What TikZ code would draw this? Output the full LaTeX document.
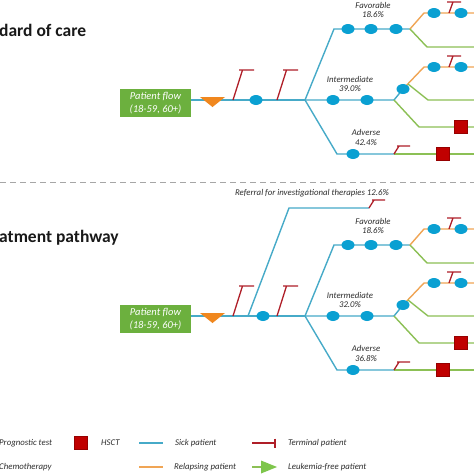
\documentclass[tikz,border=0pt]{standalone}
\usepackage{fontspec}
\setmainfont{Carlito}
\usetikzlibrary{shapes.geometric}
\pgfdeclarelayer{back}
\pgfdeclarelayer{bg}
\pgfsetlayers{back,bg,main}
\definecolor{sickc}{RGB}{70,170,200}
\definecolor{dotc}{RGB}{10,160,210}
\definecolor{relc}{RGB}{240,165,85}
\definecolor{freec}{RGB}{140,192,85}
\definecolor{boxc}{RGB}{108,176,62}
\definecolor{tric}{RGB}{240,135,30}
\definecolor{hsctc}{RGB}{192,0,0}
\definecolor{hsctd}{RGB}{150,0,0}
\definecolor{termc}{RGB}{175,30,40}
\definecolor{labc}{RGB}{45,45,45}
\tikzset{
  sickline/.style={draw=sickc, line width=1.4pt},
  relline/.style={draw=relc, line width=1.4pt},
  freeline/.style={draw=freec, line width=1.4pt},
  termline/.style={draw=termc, line width=1.3pt},
  dot/.style={ellipse, fill=dotc, minimum width=13pt, minimum height=10pt, inner sep=0pt},
  hsct/.style={rectangle, fill=hsctc, draw=hsctd, line width=0.5pt, minimum size=13pt, inner sep=0pt},
  lbl/.style={font=\fontsize{8.8}{10}\selectfont\itshape, text=labc, inner sep=0pt},
  legtxt/.style={font=\fontsize{8.8}{10}\selectfont\itshape, text=labc, inner sep=0pt, anchor=west},
  ttl/.style={font=\fontsize{17.5}{19}\selectfont\bfseries, text=black!90, inner sep=0pt, anchor=west},
  flowbox/.style={rectangle, fill=boxc, text=white, align=center, minimum width=71pt, minimum height=28pt, inner sep=0pt, font=\fontsize{10.5}{13}\selectfont\itshape},
  tbig/.pic={\draw[termline] (0,0) -- (9.5,-30) (6,-30) -- (21,-30);},
  tsmall/.pic={\draw[termline] (0,0) -- (4,-11) (-2,-11) -- (12,-11);},
  tlow/.pic={\draw[termline] (0,0) -- (5,-8) (3,-8) -- (16,-8);}
}
\newcommand\mytree[5]{%
  \node[flowbox] (#1box) at (155.5,103) {Patient flow\\(18-59, 60+)};
  \coordinate (#1s) at (191,100);
  \coordinate (#1b) at (305,100);
  \coordinate (#1fc) at (334,29);
  \coordinate (#1fs) at (410,29);
  \coordinate (#1fo) at (424,13);
  \coordinate (#1foe) at (474,13);
  \coordinate (#1fg) at (427,47);
  \coordinate (#1fge) at (474,47);
  \coordinate (#1is) at (394,100);
  \coordinate (#1ij) at (408,84);
  \coordinate (#1io) at (424,67);
  \coordinate (#1ioe) at (474,67);
  \coordinate (#1ig) at (428,100);
  \coordinate (#1ige) at (474,100);
  \coordinate (#1ih) at (419,127);
  \coordinate (#1ihe) at (474,127);
  \coordinate (#1ac) at (337,154);
  \coordinate (#1at) at (394,154);
  \coordinate (#1ae) at (474,154);
  \node[dot] (#1m) at (#4,100) {};
  \node[dot] (#1f1) at (348,29) {};
  \node[dot] (#1f2) at (371,29) {};
  \node[dot] (#1f3) at (396,29) {};
  \node[dot] (#1fo1) at (434,13) {};
  \node[dot] (#1fo2) at (461,13) {};
  \node[dot] (#1i1) at (333,100) {};
  \node[dot] (#1i2) at (367,100) {};
  \node[dot] (#1ie) at (403,89) {};
  \node[dot] (#1io1) at (434,67) {};
  \node[dot] (#1io2) at (461,67) {};
  \node[dot] (#1a1) at (353,154) {};
  \node[hsct] (#1sq1) at (461,127) {};
  \node[hsct] (#1sq2) at (443,154) {};
  \begin{pgfonlayer}{bg}
    \draw[sickline] (#1s) -- (#1b);
    \draw[sickline] (#1b) -- (#1fc) -- (#1fs);
    \draw[relline] (#1fs) -- (#1fo) -- (#1foe);
    \draw[freeline] (#1fs) -- (#1fg) -- (#1fge);
    \draw[sickline] (#1b) -- (#1is) -- (#1ie.center);
    \draw[relline] (#1ie.center) -- (#1io) -- (#1ioe);
    \draw[freeline] (#1ij) -- (#1ig) -- (#1ige);
    \draw[freeline] (#1is) -- (#1ih) -- (#1ihe);
    \draw[sickline] (#1b) -- (#1ac) -- (#1at);
    \draw[freeline] (#1at) -- (#1ae);
  \end{pgfonlayer}
  \fill[tric] (200,97) -- (225,97) -- (212.5,107) -- cycle;
  \pic at (233,100) {tbig};
  \pic at (277,100) {tbig};
  \pic at (449,13) {tsmall};
  \pic at (449,67) {tsmall};
  \pic at (394,154) {tlow};
  \node[lbl] (#1lf) at (373,5) {Favorable};
  \node[lbl] (#1lfp) at (373,15) {18.6\%};
  \node[lbl] (#1li) at (350,79) {Intermediate};
  \node[lbl] (#1lip) at (350,89) {#2};
  \node[lbl] (#1la) at (366,132) {Adverse};
  \node[lbl] (#1lap) at (366,143) {#3};
  #5
}
\begin{document}
\begin{tikzpicture}[x=1pt,y=-1pt]
\useasboundingbox (0,0) rectangle (474,474);
\begin{pgfonlayer}{back}
\fill[white] (0,0) rectangle (474,474);
\end{pgfonlayer}
% titles
\node[ttl] (t1) at (-1,30) {dard of care};
\node[ttl] (t2) at (-1,238) {atment pathway};
% separator
\coordinate (dl) at (0,182);
\coordinate (dr) at (474,182);
\draw[black!35, line width=1pt, dash pattern=on 6pt off 4pt] (dl) -- (dr);
% top tree
\mytree{A}{39.0\%}{42.4\%}{256}{}
% bottom tree
\begin{scope}[yshift=-216pt]
\mytree{B}{32.0\%}{36.8\%}{263}{%
  \coordinate (Brb) at (248,100);
  \coordinate (Brc) at (289,-8);
  \coordinate (Brt) at (369,-8);
  \begin{pgfonlayer}{bg}
    \draw[sickline] (Brb) -- (Brc) -- (Brt);
  \end{pgfonlayer}
  \pic at (369,-8) {tlow};
  \node[lbl] (Bref) at (312,-23) {Referral for investigational therapies 12.6\%};
}
\end{scope}
% legend
\node[legtxt] (lg1) at (-1,443) {Prognostic test};
\node[hsct] (lgsq) at (81,443) {};
\node[legtxt] (lg2) at (101,443) {HSCT};
\coordinate (ls1) at (139,443);
\coordinate (ls2) at (163,443);
\draw[sickline] (ls1) -- (ls2);
\node[legtxt] (lg3) at (175,443) {Sick patient};
\coordinate (lt1) at (252,443);
\coordinate (lt2) at (275,443);
\draw[termline] (lt1) -- (lt2) (275,438.5) -- (275,447.5);
\node[legtxt] (lg4) at (288,443) {Terminal patient};
\node[legtxt] (lg5) at (-1,467) {Chemotherapy};
\coordinate (lr1) at (139,467);
\coordinate (lr2) at (163,467);
\draw[relline] (lr1) -- (lr2);
\node[legtxt] (lg6) at (174,467) {Relapsing patient};
\coordinate (lf1) at (252,467);
\coordinate (lf2) at (262,467);
\draw[freeline] (lf1) -- (lf2);
\fill[freec!90!green] (261,460.5) -- (277,467) -- (261,473.5) -- cycle;
\node[legtxt] (lg7) at (288,467) {Leukemia-free patient};
\end{tikzpicture}
\end{document}
